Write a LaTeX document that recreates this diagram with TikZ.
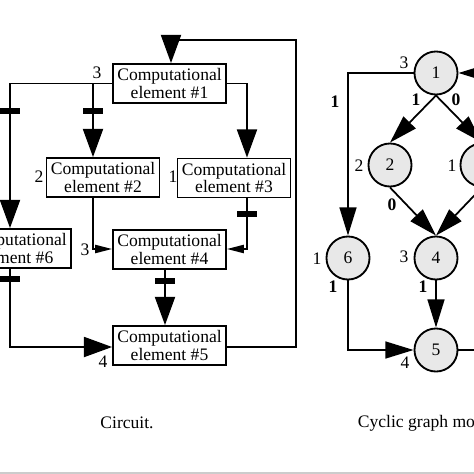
\documentclass[tikz,border=0pt]{standalone}
\usepackage{fontspec}
\setmainfont{Liberation Serif}
\usetikzlibrary{arrows.meta}

\tikzset{
  elem/.style={draw, line width=1.05pt, fill=white, minimum width=64.3pt, minimum height=22.2pt, inner sep=0pt, align=center, font=\fontsize{10}{10.2}\selectfont},
  vert/.style={draw, circle, line width=1.05pt, fill=gray!18, minimum size=24.5pt, inner sep=0pt, font=\fontsize{10}{12}\selectfont},
  token/.style={fill=black, minimum width=11.3pt, minimum height=3.8pt, inner sep=0pt},
  bigtip/.style={-{Triangle[length=16pt,width=11.4pt]}},
  smalltip/.style={-{Triangle[length=9.6pt,width=4.6pt]}},
  gtip/.style={-{Triangle[length=16pt,width=9.6pt]}},
  lbl/.style={font=\fontsize{10}{12}\selectfont, inner sep=0pt},
  wt/.style={font=\fontsize{10}{12}\selectfont\bfseries, inner sep=0pt},
}

\begin{document}
\begin{tikzpicture}[x=0.02cm, y=-0.02cm, line width=1pt]
\useasboundingbox (0,0) rectangle (474,474);
\clip (0,0) rectangle (474,474);
\fill[gray!40] (0,472) rectangle (474,474);

% circuit
\node[elem] (b1) at (169.5,83.5) {Computational\\element \#1};
\node[elem] (b2) at (103,177.5) {Computational\\element \#2};
\node[elem] (b3) at (234,178) {Computational\\element \#3};
\node[elem] (b4) at (169.5,249.5) {Computational\\element \#4};
\node[elem] (b5) at (169.5,345.5) {Computational\\element \#5};
\node[elem] (b6) at (14.5,248.5) {Computational\\element \#6};

\coordinate (colL) at (10,0);
\coordinate (col2) at (93,0);
\coordinate (col3) at (247,0);
\coordinate (col45) at (165,0);
\coordinate (colR) at (296,0);
\coordinate (fb) at (171,40);
\coordinate (row4) at (0,249);
\coordinate (row5) at (0,347);

\draw[bigtip] (b5.east |- row5) -| (fb -| colR) -- (fb) -- (fb |- b1.north); %b5-b1
\draw[bigtip] (b1.west) -| (colL |- b6.north); %b1-b6
\draw[bigtip] (col2 |- b1.west) -- (col2 |- b2.north); %b1-b2
\draw[bigtip] (b1.east) -| (col3 |- b3.north); %b1-b3
\draw[smalltip] (col2 |- b2.south) |- (b4.west |- row4); %b2-b4
\draw[smalltip] (col3 |- b3.south) |- (b4.east |- row4); %b3-b4
\draw[bigtip] (col45 |- b4.south) -- (col45 |- b5.north); %b4-b5
\draw[bigtip] (colL |- b6.south) |- (b5.west |- row5); %b6-b5

\node[token] (t1) at (10,111) {};
\node[token] (t2) at (93,111) {};
\node[token] (t3) at (247,214) {};
\node[token] (t4) at (165,281) {};
\node[token] (t6) at (10,279) {};

\node[lbl] (p1) at (97,73) {3};
\node[lbl] (p2) at (39,177) {2};
\node[lbl] (p3) at (173,177) {1};
\node[lbl] (p4) at (85,250) {3};
\node[lbl] (p5) at (103,362) {4};

% graph
\node[vert] (n1) at (436,73) {1};
\node[vert] (n2) at (390,165) {2};
\node[vert] (n3) at (482,165) {};
\node[vert] (n4) at (436,258) {4};
\node[vert] (n5) at (436,350) {5};
\node[vert] (n6) at (348,258) {6};

\coordinate (back) at (500,0);

\draw[gtip] (n1.west) -| (n6.north); %n1-n6
\draw[gtip] (n1.south) -- (n2.north); %n1-n2
\draw[gtip] (n1.south) -- (n3.north); %n1-n3
\draw[gtip] (n2.south) -- (n4.north); %n2-n4
\draw[gtip] (n3.south) -- (n4.north); %n3-n4
\draw[gtip] (n4) -- (n5); %n4-n5
\draw[gtip] (n6.south) |- (n5.west); %n6-n5
\draw[gtip] (n5.east) -| (back |- n1.east) -- (n1.east); %n5-n1

\node[lbl] (q1) at (404,63) {3};
\node[lbl] (q2) at (359,166) {2};
\node[lbl] (q3) at (452,166) {1};
\node[lbl] (q4) at (317,259) {1};
\node[lbl] (q6) at (404,257) {3};
\node[lbl] (q5) at (405,363) {4};
\node[wt] (w1) at (335,102) {1};
\node[wt] (w2) at (416,100) {1};
\node[wt] (w3) at (456,100) {0};
\node[wt] (w4) at (392,205) {0};
\node[wt] (w5) at (333,287) {1};
\node[wt] (w6) at (423,287) {1};

\node[lbl] (capA) at (127,423) {Circuit.};
\node[lbl, anchor=west] (capB) at (357,423) {Cyclic graph model.};
\end{tikzpicture}
\end{document}
